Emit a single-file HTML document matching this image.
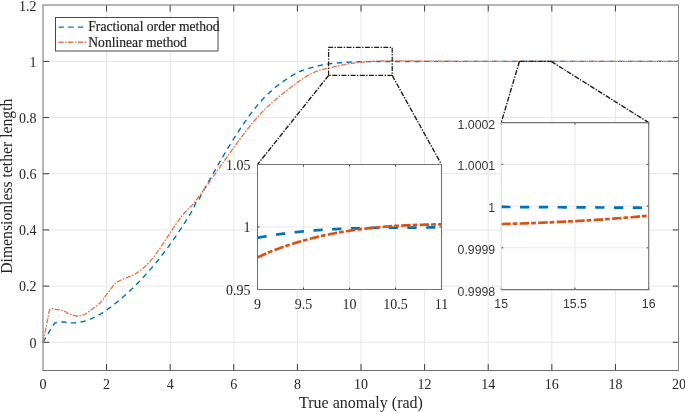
<!DOCTYPE html><html><head><meta charset="utf-8"><title>Dimensionless tether length</title><style>html,body{margin:0;padding:0;background:#fff;}svg{display:block;} .lg text{stroke:#262626;stroke-width:0.2px;}</style></head><body>
<svg width="685" height="412" viewBox="0 0 685 412">
<rect width="685" height="412" fill="#fff"/>
<path d="M106.55,5.22V370.4M170.16,5.22V370.4M233.77,5.22V370.4M297.38,5.22V370.4M360.99,5.22V370.4M424.61,5.22V370.4M488.22,5.22V370.4M551.83,5.22V370.4M615.44,5.22V370.4M42.94,342.31H679.05M42.94,286.13H679.05M42.94,229.95H679.05M42.94,173.76H679.05M42.94,117.58H679.05M42.94,61.40H679.05" stroke="#e7e7e7" stroke-width="1" fill="none"/>
<path d="M106.55,370.4v-6.3M106.55,5.22v6.3M170.16,370.4v-6.3M170.16,5.22v6.3M233.77,370.4v-6.3M233.77,5.22v6.3M297.38,370.4v-6.3M297.38,5.22v6.3M360.99,370.4v-6.3M360.99,5.22v6.3M424.61,370.4v-6.3M424.61,5.22v6.3M488.22,370.4v-6.3M488.22,5.22v6.3M551.83,370.4v-6.3M551.83,5.22v6.3M615.44,370.4v-6.3M615.44,5.22v6.3M42.94,342.31h6.3M679.05,342.31h-6.3M42.94,286.13h6.3M679.05,286.13h-6.3M42.94,229.95h6.3M679.05,229.95h-6.3M42.94,173.76h6.3M679.05,173.76h-6.3M42.94,117.58h6.3M679.05,117.58h-6.3M42.94,61.40h6.3M679.05,61.40h-6.3" stroke="#3a3a3a" stroke-width="1" fill="none"/>
<path d="M43,5V370.5" stroke="#6e6e6e" stroke-width="1" fill="none"/>
<path d="M42.5,370.5H679" stroke="#6e6e6e" stroke-width="1" fill="none"/>
<path d="M42.5,5H679" stroke="#6e6e6e" stroke-width="1" fill="none"/>
<path d="M678.5,5V370.5" stroke="#858585" stroke-width="1" fill="none"/>
<g font-family="'Liberation Serif','Times New Roman',serif" font-size="14" fill="#262626">
<text x="42.94" y="389.1" text-anchor="middle">0</text>
<text x="106.55" y="389.1" text-anchor="middle">2</text>
<text x="170.16" y="389.1" text-anchor="middle">4</text>
<text x="233.77" y="389.1" text-anchor="middle">6</text>
<text x="297.38" y="389.1" text-anchor="middle">8</text>
<text x="360.99" y="389.1" text-anchor="middle">10</text>
<text x="424.61" y="389.1" text-anchor="middle">12</text>
<text x="488.22" y="389.1" text-anchor="middle">14</text>
<text x="551.83" y="389.1" text-anchor="middle">16</text>
<text x="615.44" y="389.1" text-anchor="middle">18</text>
<text x="679.05" y="389.1" text-anchor="middle">20</text>
<text x="36.5" y="347.61" text-anchor="end">0</text>
<text x="36.5" y="291.43" text-anchor="end">0.2</text>
<text x="36.5" y="235.25" text-anchor="end">0.4</text>
<text x="36.5" y="179.06" text-anchor="end">0.6</text>
<text x="36.5" y="122.88" text-anchor="end">0.8</text>
<text x="36.5" y="66.70" text-anchor="end">1</text>
<text x="36.5" y="10.52" text-anchor="end">1.2</text>
</g>
<text x="361.0" y="408.3" text-anchor="middle" font-family="'Liberation Serif','Times New Roman',serif" font-size="16" fill="#262626">True anomaly (rad)</text>
<text transform="translate(11.6,186.2) rotate(-90)" text-anchor="middle" font-family="'Liberation Serif','Times New Roman',serif" font-size="15.7" fill="#262626">Dimensionless tether length</text>
<path d="M42.94,342.31 L43.52,341.33 L44.11,340.36 L44.69,339.38 L45.28,338.41 L45.86,337.43 L46.44,336.46 L47.03,335.48 L47.61,334.51 L48.20,333.53 L48.78,332.56 L49.36,331.58 L49.95,330.60 L50.53,329.59 L51.12,328.54 L51.70,327.49 L52.29,326.49 L52.87,325.58 L53.45,324.80 L54.04,324.04 L54.62,323.37 L55.21,322.96 L55.79,322.79 L56.37,322.63 L56.96,322.50 L57.54,322.38 L58.13,322.27 L58.71,322.18 L59.29,322.10 L59.88,322.04 L60.46,322.00 L61.05,321.96 L61.63,321.95 L62.21,321.94 L62.80,321.96 L63.38,321.98 L63.97,322.02 L64.55,322.07 L65.13,322.13 L65.72,322.19 L66.30,322.26 L66.89,322.34 L67.47,322.41 L68.06,322.49 L68.64,322.57 L69.22,322.64 L69.81,322.71 L70.39,322.77 L70.98,322.82 L71.56,322.87 L72.14,322.90 L72.73,322.92 L73.31,322.93 L73.90,322.92 L74.48,322.89 L75.06,322.86 L75.65,322.81 L76.23,322.75 L76.82,322.68 L77.40,322.60 L77.98,322.51 L78.57,322.41 L79.15,322.30 L79.74,322.19 L80.32,322.08 L80.90,321.96 L81.49,321.83 L82.07,321.71 L82.66,321.58 L83.24,321.46 L83.83,321.33 L84.41,321.20 L84.99,321.05 L85.58,320.89 L86.16,320.72 L86.75,320.53 L87.33,320.34 L87.91,320.13 L88.50,319.92 L89.08,319.69 L89.67,319.46 L90.25,319.21 L90.83,318.97 L91.42,318.71 L92.00,318.45 L92.59,318.18 L93.17,317.91 L93.75,317.63 L94.34,317.35 L94.92,317.07 L95.51,316.78 L96.09,316.50 L96.67,316.21 L97.26,315.92 L97.84,315.62 L98.43,315.30 L99.01,314.97 L99.60,314.63 L100.18,314.28 L100.76,313.92 L101.35,313.55 L101.93,313.18 L102.52,312.80 L103.10,312.42 L103.68,312.03 L104.27,311.64 L104.85,311.25 L105.44,310.86 L106.02,310.45 L106.60,310.04 L107.19,309.61 L107.77,309.19 L108.36,308.76 L108.94,308.33 L109.52,307.90 L110.11,307.46 L110.69,307.03 L111.28,306.59 L111.86,306.14 L112.44,305.70 L113.03,305.25 L113.61,304.79 L114.20,304.34 L114.78,303.88 L115.37,303.41 L115.95,302.95 L116.53,302.48 L117.12,302.00 L117.70,301.53 L118.29,301.05 L118.87,300.57 L119.45,300.08 L120.04,299.59 L120.62,299.10 L121.21,298.60 L121.79,298.10 L122.37,297.60 L122.96,297.09 L123.54,296.59 L124.13,296.07 L124.71,295.56 L125.29,295.04 L125.88,294.51 L126.46,293.99 L127.05,293.46 L127.63,292.92 L128.21,292.39 L128.80,291.85 L129.38,291.30 L129.97,290.76 L130.55,290.21 L131.14,289.65 L131.72,289.09 L132.30,288.53 L132.89,287.97 L133.47,287.40 L134.06,286.83 L134.64,286.25 L135.22,285.67 L135.81,285.09 L136.39,284.51 L136.98,283.92 L137.56,283.32 L138.14,282.73 L138.73,282.13 L139.31,281.52 L139.90,280.91 L140.48,280.30 L141.06,279.69 L141.65,279.07 L142.23,278.45 L142.82,277.82 L143.40,277.19 L143.98,276.56 L144.57,275.92 L145.15,275.28 L145.74,274.64 L146.32,273.99 L146.91,273.34 L147.49,272.68 L148.07,272.02 L148.66,271.36 L149.24,270.69 L149.83,270.02 L150.41,269.35 L150.99,268.67 L151.58,267.99 L152.16,267.30 L152.75,266.61 L153.33,265.92 L153.91,265.22 L154.50,264.52 L155.08,263.81 L155.67,263.10 L156.25,262.39 L156.83,261.67 L157.42,260.95 L158.00,260.23 L158.59,259.50 L159.17,258.77 L159.75,258.03 L160.34,257.29 L160.92,256.55 L161.51,255.80 L162.09,255.05 L162.68,254.29 L163.26,253.53 L163.84,252.77 L164.43,252.00 L165.01,251.23 L165.60,250.45 L166.18,249.67 L166.76,248.89 L167.35,248.10 L167.93,247.31 L168.52,246.51 L169.10,245.71 L169.68,244.90 L170.27,244.10 L170.85,243.28 L171.44,242.47 L172.02,241.65 L172.60,240.82 L173.19,239.99 L173.77,239.16 L174.36,238.32 L174.94,237.48 L175.52,236.63 L176.11,235.78 L176.69,234.93 L177.28,234.07 L177.86,233.21 L178.45,232.34 L179.03,231.47 L179.61,230.59 L180.20,229.72 L180.78,228.83 L181.37,227.94 L181.95,227.05 L182.53,226.15 L183.12,225.25 L183.70,224.35 L184.29,223.44 L184.87,222.53 L185.45,221.61 L186.04,220.69 L186.62,219.76 L187.21,218.83 L187.79,217.89 L188.37,216.95 L188.96,216.01 L189.54,215.06 L190.13,214.12 L190.71,213.18 L191.29,212.22 L191.88,211.25 L192.46,210.27 L193.05,209.22 L193.63,207.95 L194.22,206.55 L194.80,205.14 L195.38,203.83 L195.97,202.76 L196.55,202.04 L197.14,201.86 L197.72,201.76 L198.30,201.01 L198.89,199.90 L199.47,198.58 L200.06,197.19 L200.64,195.88 L201.22,194.77 L201.81,193.72 L202.39,192.68 L202.98,191.63 L203.56,190.58 L204.14,189.53 L204.73,188.49 L205.31,187.44 L205.90,186.40 L206.48,185.35 L207.06,184.31 L207.65,183.27 L208.23,182.23 L208.82,181.19 L209.40,180.15 L209.99,179.11 L210.57,178.07 L211.15,177.04 L211.74,176.00 L212.32,174.97 L212.91,173.94 L213.49,172.91 L214.07,171.88 L214.66,170.85 L215.24,169.83 L215.83,168.80 L216.41,167.78 L216.99,166.77 L217.58,165.75 L218.16,164.73 L218.75,163.72 L219.33,162.71 L219.91,161.70 L220.50,160.70 L221.08,159.70 L221.67,158.70 L222.25,157.70 L222.83,156.70 L223.42,155.71 L224.00,154.72 L224.59,153.74 L225.17,152.75 L225.76,151.77 L226.34,150.80 L226.92,149.82 L227.51,148.85 L228.09,147.89 L228.68,146.92 L229.26,145.96 L229.84,145.01 L230.43,144.05 L231.01,143.10 L231.60,142.16 L232.18,141.22 L232.76,140.28 L233.35,139.35 L233.93,138.42 L234.52,137.49 L235.10,136.57 L235.68,135.66 L236.27,134.75 L236.85,133.84 L237.44,132.94 L238.02,132.04 L238.60,131.14 L239.19,130.26 L239.77,129.37 L240.36,128.49 L240.94,127.62 L241.53,126.75 L242.11,125.89 L242.69,125.03 L243.28,124.18 L243.86,123.33 L244.45,122.49 L245.03,121.65 L245.61,120.82 L246.20,119.99 L246.78,119.17 L247.37,118.36 L247.95,117.55 L248.53,116.75 L249.12,115.95 L249.70,115.16 L250.29,114.37 L250.87,113.60 L251.45,112.83 L252.04,112.06 L252.62,111.30 L253.21,110.55 L253.79,109.80 L254.37,109.06 L254.96,108.33 L255.54,107.61 L256.13,106.89 L256.71,106.17 L257.30,105.47 L257.88,104.77 L258.46,104.08 L259.05,103.40 L259.63,102.72 L260.22,102.05 L260.80,101.39 L261.38,100.74 L261.97,100.09 L262.55,99.45 L263.14,98.82 L263.72,98.20 L264.30,97.58 L264.89,96.98 L265.47,96.38 L266.06,95.79 L266.64,95.21 L267.22,94.63 L267.81,94.06 L268.39,93.51 L268.98,92.96 L269.56,92.42 L270.14,91.89 L270.73,91.38 L271.31,90.87 L271.90,90.37 L272.48,89.88 L273.07,89.38 L273.65,88.87 L274.23,88.35 L274.82,87.82 L275.40,87.29 L275.99,86.78 L276.57,86.28 L277.15,85.81 L277.74,85.35 L278.32,84.91 L278.91,84.47 L279.49,84.04 L280.07,83.62 L280.66,83.21 L281.24,82.80 L281.83,82.40 L282.41,82.00 L282.99,81.60 L283.58,81.20 L284.16,80.80 L284.75,80.40 L285.33,80.00 L285.91,79.60 L286.50,79.19 L287.08,78.79 L287.67,78.38 L288.25,77.98 L288.84,77.58 L289.42,77.19 L290.00,76.81 L290.59,76.43 L291.17,76.06 L291.76,75.69 L292.34,75.34 L292.92,75.00 L293.51,74.67 L294.09,74.35 L294.68,74.03 L295.26,73.72 L295.84,73.42 L296.43,73.12 L297.01,72.82 L297.60,72.54 L298.18,72.26 L298.76,71.99 L299.35,71.73 L299.93,71.47 L300.52,71.23 L301.10,70.99 L301.68,70.76 L302.27,70.54 L302.85,70.33 L303.44,70.12 L304.02,69.92 L304.61,69.72 L305.19,69.52 L305.77,69.33 L306.36,69.15 L306.94,68.97 L307.53,68.79 L308.11,68.61 L308.69,68.44 L309.28,68.27 L309.86,68.10 L310.45,67.93 L311.03,67.76 L311.61,67.60 L312.20,67.43 L312.78,67.27 L313.37,67.11 L313.95,66.96 L314.53,66.80 L315.12,66.65 L315.70,66.50 L316.29,66.36 L316.87,66.21 L317.45,66.07 L318.04,65.94 L318.62,65.80 L319.21,65.68 L319.79,65.55 L320.38,65.43 L320.96,65.30 L321.54,65.18 L322.13,65.06 L322.71,64.95 L323.30,64.83 L323.88,64.72 L324.46,64.61 L325.05,64.50 L325.63,64.40 L326.22,64.30 L326.80,64.20 L327.38,64.10 L327.97,64.01 L328.55,63.92 L329.14,63.84 L329.72,63.76 L330.30,63.69 L330.89,63.62 L331.47,63.56 L332.06,63.49 L332.64,63.43 L333.22,63.37 L333.81,63.31 L334.39,63.25 L334.98,63.19 L335.56,63.13 L336.15,63.08 L336.73,63.02 L337.31,62.97 L337.90,62.92 L338.48,62.87 L339.07,62.82 L339.65,62.77 L340.23,62.73 L340.82,62.68 L341.40,62.64 L341.99,62.59 L342.57,62.55 L343.15,62.51 L343.74,62.47 L344.32,62.43 L344.91,62.40 L345.49,62.36 L346.07,62.33 L346.66,62.29 L347.24,62.26 L347.83,62.23 L348.41,62.20 L348.99,62.17 L349.58,62.14 L350.16,62.11 L350.75,62.08 L351.33,62.06 L351.92,62.03 L352.50,62.01 L353.08,61.99 L353.67,61.96 L354.25,61.94 L354.84,61.92 L355.42,61.90 L356.00,61.88 L356.59,61.86 L357.17,61.85 L357.76,61.83 L358.34,61.81 L358.92,61.80 L359.51,61.78 L360.09,61.77 L360.68,61.76 L361.26,61.74 L361.84,61.73 L362.43,61.72 L363.01,61.71 L363.60,61.70 L364.18,61.69 L364.76,61.68 L365.35,61.67 L365.93,61.66 L366.52,61.65 L367.10,61.64 L367.69,61.64 L368.27,61.63 L368.85,61.62 L369.44,61.62 L370.02,61.61 L370.61,61.61 L371.19,61.60 L371.77,61.60 L372.36,61.59 L372.94,61.59 L373.53,61.58 L374.11,61.58 L374.69,61.58 L375.28,61.57 L375.86,61.57 L376.45,61.57 L377.03,61.56 L377.61,61.56 L378.20,61.56 L378.78,61.56 L379.37,61.55 L379.95,61.55 L380.53,61.55 L381.12,61.55 L381.70,61.54 L382.29,61.54 L382.87,61.54 L383.46,61.54 L384.04,61.53 L384.62,61.53 L385.21,61.53 L385.79,61.52 L386.38,61.52 L386.96,61.52 L387.54,61.51 L388.13,61.51 L388.71,61.51 L389.30,61.50 L389.88,61.50 L390.46,61.49 L391.05,61.48 L391.63,61.48 L392.22,61.47 L392.80,61.47 L393.44,61.47 L394.87,61.46 L396.31,61.46 L397.74,61.46 L399.18,61.46 L400.61,61.45 L402.05,61.45 L403.48,61.45 L404.92,61.45 L406.35,61.45 L407.79,61.44 L409.22,61.44 L410.66,61.44 L412.09,61.44 L413.53,61.44 L414.97,61.44 L416.40,61.43 L417.84,61.43 L419.27,61.43 L420.71,61.43 L422.14,61.43 L423.58,61.42 L425.01,61.42 L426.45,61.42 L427.88,61.42 L429.32,61.42 L430.75,61.42 L432.19,61.41 L433.62,61.41 L435.06,61.41 L436.49,61.41 L437.93,61.41 L439.36,61.41 L440.80,61.41 L442.23,61.41 L443.67,61.41 L445.11,61.41 L446.54,61.41 L447.98,61.41 L449.41,61.41 L450.85,61.41 L452.28,61.41 L453.72,61.41 L455.15,61.41 L456.59,61.41 L458.02,61.41 L459.46,61.41 L460.89,61.41 L462.33,61.41 L463.76,61.41 L465.20,61.41 L466.63,61.41 L468.07,61.41 L469.50,61.41 L470.94,61.41 L472.37,61.41 L473.81,61.41 L475.25,61.41 L476.68,61.41 L478.12,61.41 L479.55,61.41 L480.99,61.41 L482.42,61.41 L483.86,61.41 L485.29,61.41 L486.73,61.41 L488.16,61.41 L489.60,61.41 L491.03,61.41 L492.47,61.41 L493.90,61.41 L495.34,61.41 L496.77,61.41 L498.21,61.41 L499.64,61.41 L501.08,61.40 L502.52,61.40 L503.95,61.40 L505.39,61.40 L506.82,61.40 L508.26,61.40 L509.69,61.40 L511.13,61.40 L512.56,61.40 L514.00,61.40 L515.43,61.40 L516.87,61.40 L518.30,61.40 L519.74,61.40 L521.17,61.40 L522.61,61.40 L524.04,61.40 L525.48,61.40 L526.91,61.40 L528.35,61.40 L529.78,61.40 L531.22,61.40 L532.66,61.40 L534.09,61.40 L535.53,61.40 L536.96,61.40 L538.40,61.40 L539.83,61.40 L541.27,61.40 L542.70,61.40 L544.14,61.40 L545.57,61.40 L547.01,61.40 L548.44,61.40 L549.88,61.40 L551.31,61.40 L552.75,61.40 L554.18,61.40 L555.62,61.40 L557.05,61.40 L558.49,61.40 L559.92,61.40 L561.36,61.40 L562.80,61.40 L564.23,61.40 L565.67,61.40 L567.10,61.40 L568.54,61.40 L569.97,61.40 L571.41,61.40 L572.84,61.40 L574.28,61.40 L575.71,61.40 L577.15,61.40 L578.58,61.40 L580.02,61.40 L581.45,61.40 L582.89,61.40 L584.32,61.40 L585.76,61.40 L587.19,61.40 L588.63,61.40 L590.06,61.40 L591.50,61.40 L592.94,61.40 L594.37,61.40 L595.81,61.40 L597.24,61.40 L598.68,61.40 L600.11,61.40 L601.55,61.40 L602.98,61.40 L604.42,61.40 L605.85,61.40 L607.29,61.40 L608.72,61.40 L610.16,61.40 L611.59,61.40 L613.03,61.40 L614.46,61.40 L615.90,61.40 L617.33,61.40 L618.77,61.40 L620.21,61.40 L621.64,61.40 L623.08,61.40 L624.51,61.40 L625.95,61.40 L627.38,61.40 L628.82,61.40 L630.25,61.40 L631.69,61.40 L633.12,61.40 L634.56,61.40 L635.99,61.40 L637.43,61.40 L638.86,61.40 L640.30,61.40 L641.73,61.40 L643.17,61.40 L644.60,61.40 L646.04,61.40 L647.47,61.40 L648.91,61.40 L650.35,61.40 L651.78,61.40 L653.22,61.40 L654.65,61.40 L656.09,61.40 L657.52,61.40 L658.96,61.40 L660.39,61.40 L661.83,61.40 L663.26,61.40 L664.70,61.40 L666.13,61.40 L667.57,61.40 L669.00,61.40 L670.44,61.40 L671.87,61.40 L673.31,61.40 L674.74,61.40 L676.18,61.40 L677.61,61.40 L679.05,61.40" stroke="#0072BD" stroke-width="1.4" fill="none" stroke-dasharray="5.4 4.3"/>
<path d="M42.94,342.31 L43.52,339.49 L44.11,336.68 L44.69,333.86 L45.28,331.05 L45.86,328.23 L46.44,325.42 L47.03,322.60 L47.61,319.73 L48.20,316.38 L48.78,313.07 L49.36,310.54 L49.95,309.34 L50.53,308.69 L51.12,308.61 L51.70,308.65 L52.29,308.72 L52.87,308.79 L53.45,308.87 L54.04,308.97 L54.62,309.08 L55.21,309.20 L55.79,309.32 L56.37,309.44 L56.96,309.55 L57.54,309.66 L58.13,309.76 L58.71,309.85 L59.29,309.95 L59.88,310.05 L60.46,310.16 L61.05,310.27 L61.63,310.39 L62.21,310.52 L62.80,310.67 L63.38,310.83 L63.97,311.02 L64.55,311.28 L65.13,311.58 L65.72,311.91 L66.30,312.26 L66.89,312.62 L67.47,312.97 L68.06,313.29 L68.64,313.57 L69.22,313.82 L69.81,314.06 L70.39,314.29 L70.98,314.51 L71.56,314.71 L72.14,314.91 L72.73,315.09 L73.31,315.25 L73.90,315.41 L74.48,315.57 L75.06,315.73 L75.65,315.87 L76.23,315.98 L76.82,316.04 L77.40,316.04 L77.98,316.01 L78.57,315.95 L79.15,315.87 L79.74,315.77 L80.32,315.64 L80.90,315.50 L81.49,315.35 L82.07,315.18 L82.66,315.01 L83.24,314.83 L83.83,314.65 L84.41,314.43 L84.99,314.17 L85.58,313.86 L86.16,313.51 L86.75,313.13 L87.33,312.72 L87.91,312.30 L88.50,311.87 L89.08,311.43 L89.67,311.00 L90.25,310.57 L90.83,310.16 L91.42,309.74 L92.00,309.31 L92.59,308.86 L93.17,308.41 L93.75,307.96 L94.34,307.50 L94.92,307.03 L95.51,306.56 L96.09,306.09 L96.67,305.61 L97.26,305.14 L97.84,304.68 L98.43,304.23 L99.01,303.77 L99.60,303.29 L100.18,302.78 L100.76,302.22 L101.35,301.61 L101.93,300.92 L102.52,300.16 L103.10,299.35 L103.68,298.51 L104.27,297.65 L104.85,296.79 L105.44,295.94 L106.02,295.11 L106.60,294.33 L107.19,293.57 L107.77,292.81 L108.36,292.07 L108.94,291.33 L109.52,290.59 L110.11,289.85 L110.69,289.10 L111.28,288.34 L111.86,287.58 L112.44,286.79 L113.03,285.99 L113.61,285.06 L114.20,284.23 L114.78,283.71 L115.37,283.31 L115.95,282.96 L116.53,282.58 L117.12,282.20 L117.70,281.84 L118.29,281.48 L118.87,281.15 L119.45,280.83 L120.04,280.54 L120.62,280.26 L121.21,279.99 L121.79,279.73 L122.37,279.47 L122.96,279.22 L123.54,278.99 L124.13,278.75 L124.71,278.53 L125.29,278.30 L125.88,278.07 L126.46,277.84 L127.05,277.61 L127.63,277.39 L128.21,277.16 L128.80,276.92 L129.38,276.68 L129.97,276.44 L130.55,276.19 L131.14,275.94 L131.72,275.67 L132.30,275.40 L132.89,275.12 L133.47,274.83 L134.06,274.54 L134.64,274.23 L135.22,273.91 L135.81,273.58 L136.39,273.24 L136.98,272.88 L137.56,272.51 L138.14,272.14 L138.73,271.75 L139.31,271.34 L139.90,270.92 L140.48,270.49 L141.06,270.04 L141.65,269.58 L142.23,269.11 L142.82,268.62 L143.40,268.12 L143.98,267.60 L144.57,267.07 L145.15,266.52 L145.74,265.96 L146.32,265.39 L146.91,264.80 L147.49,264.19 L148.07,263.58 L148.66,262.95 L149.24,262.30 L149.83,261.64 L150.41,260.97 L150.99,260.29 L151.58,259.59 L152.16,258.88 L152.75,258.16 L153.33,257.42 L153.91,256.67 L154.50,255.92 L155.08,255.15 L155.67,254.37 L156.25,253.58 L156.83,252.78 L157.42,251.97 L158.00,251.15 L158.59,250.32 L159.17,249.49 L159.75,248.64 L160.34,247.79 L160.92,246.94 L161.51,246.07 L162.09,245.20 L162.68,244.32 L163.26,243.44 L163.84,242.56 L164.43,241.67 L165.01,240.78 L165.60,239.88 L166.18,238.98 L166.76,238.09 L167.35,237.19 L167.93,236.29 L168.52,235.39 L169.10,234.48 L169.68,233.58 L170.27,232.69 L170.85,231.79 L171.44,230.90 L172.02,230.01 L172.60,229.12 L173.19,228.24 L173.77,227.37 L174.36,226.50 L174.94,225.63 L175.52,224.78 L176.11,223.93 L176.69,223.09 L177.28,222.25 L177.86,221.43 L178.45,220.61 L179.03,219.80 L179.61,219.01 L180.20,218.23 L180.78,217.46 L181.37,216.70 L181.95,215.95 L182.53,215.21 L183.12,214.50 L183.70,213.79 L184.29,213.10 L184.87,212.42 L185.45,211.76 L186.04,211.11 L186.62,210.49 L187.21,209.89 L187.79,209.30 L188.37,208.72 L188.96,208.15 L189.54,207.58 L190.13,207.03 L190.71,206.50 L191.29,205.95 L191.88,205.38 L192.46,204.77 L193.05,204.09 L193.63,203.37 L194.22,202.64 L194.80,201.91 L195.38,201.15 L195.97,200.39 L196.55,199.62 L197.14,198.84 L197.72,198.07 L198.30,197.29 L198.89,196.52 L199.47,195.74 L200.06,194.95 L200.64,194.17 L201.22,193.38 L201.81,192.59 L202.39,191.79 L202.98,190.99 L203.56,190.19 L204.14,189.39 L204.73,188.59 L205.31,187.78 L205.90,186.97 L206.48,186.16 L207.06,185.35 L207.65,184.53 L208.23,183.71 L208.82,182.89 L209.40,182.07 L209.99,181.25 L210.57,180.43 L211.15,179.60 L211.74,178.77 L212.32,177.94 L212.91,177.12 L213.49,176.29 L214.07,175.45 L214.66,174.62 L215.24,173.79 L215.83,172.96 L216.41,172.12 L216.99,171.29 L217.58,170.45 L218.16,169.62 L218.75,168.78 L219.33,167.94 L219.91,167.11 L220.50,166.27 L221.08,165.43 L221.67,164.60 L222.25,163.76 L222.83,162.93 L223.42,162.09 L224.00,161.26 L224.59,160.42 L225.17,159.59 L225.76,158.76 L226.34,157.92 L226.92,157.09 L227.51,156.26 L228.09,155.43 L228.68,154.61 L229.26,153.78 L229.84,152.96 L230.43,152.13 L231.01,151.31 L231.60,150.49 L232.18,149.67 L232.76,148.85 L233.35,148.04 L233.93,147.23 L234.52,146.42 L235.10,145.61 L235.68,144.80 L236.27,144.00 L236.85,143.20 L237.44,142.40 L238.02,141.60 L238.60,140.81 L239.19,140.01 L239.77,139.23 L240.36,138.44 L240.94,137.66 L241.53,136.88 L242.11,136.10 L242.69,135.33 L243.28,134.56 L243.86,133.80 L244.45,133.04 L245.03,132.28 L245.61,131.52 L246.20,130.77 L246.78,130.02 L247.37,129.28 L247.95,128.54 L248.53,127.81 L249.12,127.08 L249.70,126.35 L250.29,125.63 L250.87,124.91 L251.45,124.20 L252.04,123.49 L252.62,122.79 L253.21,122.09 L253.79,121.40 L254.37,120.71 L254.96,120.03 L255.54,119.35 L256.13,118.68 L256.71,118.01 L257.30,117.35 L257.88,116.70 L258.46,116.05 L259.05,115.40 L259.63,114.76 L260.22,114.13 L260.80,113.50 L261.38,112.88 L261.97,112.27 L262.55,111.66 L263.14,111.06 L263.72,110.47 L264.30,109.88 L264.89,109.29 L265.47,108.72 L266.06,108.15 L266.64,107.59 L267.22,107.04 L267.81,106.51 L268.39,105.97 L268.98,105.45 L269.56,104.92 L270.14,104.41 L270.73,103.89 L271.31,103.38 L271.90,102.87 L272.48,102.35 L273.07,101.84 L273.65,101.33 L274.23,100.82 L274.82,100.32 L275.40,99.82 L275.99,99.31 L276.57,98.81 L277.15,98.32 L277.74,97.82 L278.32,97.32 L278.91,96.83 L279.49,96.33 L280.07,95.83 L280.66,95.34 L281.24,94.84 L281.83,94.34 L282.41,93.85 L282.99,93.36 L283.58,92.88 L284.16,92.40 L284.75,91.93 L285.33,91.46 L285.91,91.00 L286.50,90.55 L287.08,90.10 L287.67,89.66 L288.25,89.22 L288.84,88.79 L289.42,88.36 L290.00,87.93 L290.59,87.50 L291.17,87.07 L291.76,86.64 L292.34,86.21 L292.92,85.78 L293.51,85.35 L294.09,84.91 L294.68,84.48 L295.26,84.04 L295.84,83.61 L296.43,83.18 L297.01,82.75 L297.60,82.32 L298.18,81.90 L298.76,81.48 L299.35,81.07 L299.93,80.66 L300.52,80.25 L301.10,79.86 L301.68,79.46 L302.27,79.06 L302.85,78.66 L303.44,78.26 L304.02,77.87 L304.61,77.48 L305.19,77.09 L305.77,76.72 L306.36,76.35 L306.94,75.99 L307.53,75.64 L308.11,75.30 L308.69,74.97 L309.28,74.66 L309.86,74.35 L310.45,74.05 L311.03,73.76 L311.61,73.47 L312.20,73.19 L312.78,72.92 L313.37,72.66 L313.95,72.40 L314.53,72.15 L315.12,71.92 L315.70,71.69 L316.29,71.47 L316.87,71.26 L317.45,71.05 L318.04,70.85 L318.62,70.66 L319.21,70.47 L319.79,70.29 L320.38,70.11 L320.96,69.94 L321.54,69.78 L322.13,69.62 L322.71,69.47 L323.30,69.32 L323.88,69.19 L324.46,69.06 L325.05,68.95 L325.63,68.85 L326.22,68.75 L326.80,68.65 L327.38,68.55 L327.97,68.44 L328.55,68.33 L329.14,68.20 L329.72,68.07 L330.30,67.91 L330.89,67.74 L331.47,67.57 L332.06,67.40 L332.64,67.23 L333.22,67.07 L333.81,66.92 L334.39,66.77 L334.98,66.63 L335.56,66.48 L336.15,66.34 L336.73,66.20 L337.31,66.06 L337.90,65.93 L338.48,65.80 L339.07,65.66 L339.65,65.54 L340.23,65.41 L340.82,65.29 L341.40,65.17 L341.99,65.05 L342.57,64.93 L343.15,64.81 L343.74,64.70 L344.32,64.59 L344.91,64.48 L345.49,64.38 L346.07,64.27 L346.66,64.17 L347.24,64.07 L347.83,63.97 L348.41,63.88 L348.99,63.78 L349.58,63.69 L350.16,63.60 L350.75,63.51 L351.33,63.42 L351.92,63.34 L352.50,63.26 L353.08,63.17 L353.67,63.10 L354.25,63.02 L354.84,62.94 L355.42,62.87 L356.00,62.79 L356.59,62.72 L357.17,62.66 L357.76,62.59 L358.34,62.52 L358.92,62.46 L359.51,62.40 L360.09,62.33 L360.68,62.28 L361.26,62.22 L361.84,62.16 L362.43,62.11 L363.01,62.05 L363.60,62.00 L364.18,61.95 L364.76,61.90 L365.35,61.85 L365.93,61.81 L366.52,61.76 L367.10,61.72 L367.69,61.68 L368.27,61.64 L368.85,61.60 L369.44,61.56 L370.02,61.52 L370.61,61.48 L371.19,61.45 L371.77,61.42 L372.36,61.38 L372.94,61.35 L373.53,61.32 L374.11,61.29 L374.69,61.26 L375.28,61.24 L375.86,61.21 L376.45,61.19 L377.03,61.16 L377.61,61.14 L378.20,61.12 L378.78,61.10 L379.37,61.07 L379.95,61.06 L380.53,61.04 L381.12,61.02 L381.70,61.00 L382.29,60.99 L382.87,60.97 L383.46,60.96 L384.04,60.94 L384.62,60.93 L385.21,60.92 L385.79,60.90 L386.38,60.89 L386.96,60.88 L387.54,60.87 L388.13,60.86 L388.71,60.85 L389.30,60.85 L389.88,60.84 L390.46,60.83 L391.05,60.82 L391.63,60.81 L392.22,60.81 L392.80,60.81 L393.44,60.81 L394.87,60.81 L396.31,60.82 L397.74,60.83 L399.18,60.84 L400.61,60.85 L402.05,60.86 L403.48,60.88 L404.92,60.89 L406.35,60.90 L407.79,60.92 L409.22,60.93 L410.66,60.94 L412.09,60.95 L413.53,60.97 L414.97,60.98 L416.40,61.00 L417.84,61.01 L419.27,61.03 L420.71,61.05 L422.14,61.06 L423.58,61.08 L425.01,61.09 L426.45,61.11 L427.88,61.13 L429.32,61.14 L430.75,61.16 L432.19,61.17 L433.62,61.18 L435.06,61.20 L436.49,61.21 L437.93,61.22 L439.36,61.23 L440.80,61.23 L442.23,61.24 L443.67,61.25 L445.11,61.26 L446.54,61.27 L447.98,61.27 L449.41,61.28 L450.85,61.29 L452.28,61.29 L453.72,61.30 L455.15,61.31 L456.59,61.32 L458.02,61.32 L459.46,61.33 L460.89,61.33 L462.33,61.34 L463.76,61.35 L465.20,61.35 L466.63,61.36 L468.07,61.36 L469.50,61.37 L470.94,61.37 L472.37,61.38 L473.81,61.38 L475.25,61.38 L476.68,61.39 L478.12,61.39 L479.55,61.39 L480.99,61.40 L482.42,61.40 L483.86,61.40 L485.29,61.40 L486.73,61.40 L488.16,61.40 L489.60,61.40 L491.03,61.40 L492.47,61.40 L493.90,61.40 L495.34,61.40 L496.77,61.40 L498.21,61.40 L499.64,61.40 L501.08,61.40 L502.52,61.40 L503.95,61.40 L505.39,61.40 L506.82,61.40 L508.26,61.40 L509.69,61.40 L511.13,61.40 L512.56,61.40 L514.00,61.40 L515.43,61.40 L516.87,61.40 L518.30,61.40 L519.74,61.40 L521.17,61.40 L522.61,61.40 L524.04,61.40 L525.48,61.40 L526.91,61.40 L528.35,61.40 L529.78,61.40 L531.22,61.40 L532.66,61.40 L534.09,61.40 L535.53,61.40 L536.96,61.40 L538.40,61.40 L539.83,61.40 L541.27,61.40 L542.70,61.40 L544.14,61.40 L545.57,61.40 L547.01,61.40 L548.44,61.40 L549.88,61.40 L551.31,61.40 L552.75,61.40 L554.18,61.40 L555.62,61.40 L557.05,61.40 L558.49,61.40 L559.92,61.40 L561.36,61.40 L562.80,61.40 L564.23,61.40 L565.67,61.40 L567.10,61.40 L568.54,61.40 L569.97,61.40 L571.41,61.40 L572.84,61.40 L574.28,61.40 L575.71,61.40 L577.15,61.40 L578.58,61.40 L580.02,61.40 L581.45,61.40 L582.89,61.40 L584.32,61.40 L585.76,61.40 L587.19,61.40 L588.63,61.40 L590.06,61.40 L591.50,61.40 L592.94,61.40 L594.37,61.40 L595.81,61.40 L597.24,61.40 L598.68,61.40 L600.11,61.40 L601.55,61.40 L602.98,61.40 L604.42,61.40 L605.85,61.40 L607.29,61.40 L608.72,61.40 L610.16,61.40 L611.59,61.40 L613.03,61.40 L614.46,61.40 L615.90,61.40 L617.33,61.40 L618.77,61.40 L620.21,61.40 L621.64,61.40 L623.08,61.40 L624.51,61.40 L625.95,61.40 L627.38,61.40 L628.82,61.40 L630.25,61.40 L631.69,61.40 L633.12,61.40 L634.56,61.40 L635.99,61.40 L637.43,61.40 L638.86,61.40 L640.30,61.40 L641.73,61.40 L643.17,61.40 L644.60,61.40 L646.04,61.40 L647.47,61.40 L648.91,61.40 L650.35,61.40 L651.78,61.40 L653.22,61.40 L654.65,61.40 L656.09,61.40 L657.52,61.40 L658.96,61.40 L660.39,61.40 L661.83,61.40 L663.26,61.40 L664.70,61.40 L666.13,61.40 L667.57,61.40 L669.00,61.40 L670.44,61.40 L671.87,61.40 L673.31,61.40 L674.74,61.40 L676.18,61.40 L677.61,61.40 L679.05,61.40" stroke="#E4784C" stroke-width="1.35" fill="none" stroke-dasharray="5.2 1.4 1.6 1.5"/>
<path d="M328.59,75.45V47.36H392.20V75.45H328.59" stroke="#1e1e1e" stroke-width="1.25" fill="none" stroke-dasharray="5 1.4 1.4 1.4"/>
<path d="M328.59,75.45L257.5,164.5" stroke="#1e1e1e" stroke-width="1.4" fill="none" stroke-dasharray="5 1.4 1.4 1.4"/>
<path d="M392.20,75.45L441.5,164.5" stroke="#1e1e1e" stroke-width="1.4" fill="none" stroke-dasharray="5 1.4 1.4 1.4"/>
<path d="M519.42,61.35H551.23" stroke="#1e1e1e" stroke-width="1.25" fill="none" stroke-dasharray="5 1.4 1.4 1.4"/>
<path d="M519.42,61.46L501.2,122.6" stroke="#1e1e1e" stroke-width="1.4" fill="none" stroke-dasharray="5 1.4 1.4 1.4"/>
<path d="M551.23,61.46L648.7,122.6" stroke="#1e1e1e" stroke-width="1.4" fill="none" stroke-dasharray="5 1.4 1.4 1.4"/>
<rect x="55.5" y="17.5" width="162.5" height="33.5" fill="#fff" stroke="#4a4a4a" stroke-width="1"/>
<path d="M58.5,27.1H84" stroke="#0072BD" stroke-width="1.4" stroke-dasharray="5.4 4.3" fill="none"/>
<path d="M58.5,42.2H86" stroke="#E4784C" stroke-width="1.35" stroke-dasharray="5.2 1.4 1.6 1.5" fill="none"/>
<g class="lg" font-family="'Liberation Serif','Times New Roman',serif" font-size="13.6" fill="#262626"><text x="88.3" y="30.9">Fractional order method</text><text x="88.3" y="46.6">Nonlinear method</text></g>
<rect x="257.5" y="164.5" width="184.0" height="125.0" fill="#fff"/>
<path d="M303.50,164.5V289.5M349.50,164.5V289.5M395.50,164.5V289.5M257.5,227.00H441.5" stroke="#e7e7e7" stroke-width="1" fill="none"/>
<path d="M257.50,289.5v-2M257.50,164.5v2M303.50,289.5v-2M303.50,164.5v2M349.50,289.5v-2M349.50,164.5v2M395.50,289.5v-2M395.50,164.5v2M441.50,289.5v-2M441.50,164.5v2M257.5,289.50h2M441.5,289.50h-2M257.5,227.00h2M441.5,227.00h-2M257.5,164.50h2M441.5,164.50h-2" stroke="#3a3a3a" stroke-width="1" fill="none"/>
<path d="M257.50,237.83 L258.42,237.64 L259.35,237.45 L260.27,237.27 L261.20,237.10 L262.12,236.94 L263.05,236.77 L263.97,236.62 L264.90,236.46 L265.82,236.31 L266.75,236.16 L267.67,236.00 L268.60,235.85 L269.52,235.70 L270.44,235.55 L271.37,235.41 L272.29,235.26 L273.22,235.12 L274.14,234.98 L275.07,234.83 L275.99,234.70 L276.92,234.56 L277.84,234.43 L278.77,234.29 L279.69,234.16 L280.62,234.03 L281.54,233.91 L282.46,233.78 L283.39,233.66 L284.31,233.54 L285.24,233.42 L286.16,233.30 L287.09,233.18 L288.01,233.06 L288.94,232.95 L289.86,232.84 L290.79,232.73 L291.71,232.62 L292.64,232.52 L293.56,232.41 L294.48,232.31 L295.41,232.20 L296.33,232.10 L297.26,232.01 L298.18,231.91 L299.11,231.81 L300.03,231.72 L300.96,231.62 L301.88,231.53 L302.81,231.44 L303.73,231.36 L304.66,231.27 L305.58,231.18 L306.51,231.10 L307.43,231.02 L308.35,230.94 L309.28,230.86 L310.20,230.78 L311.13,230.70 L312.05,230.62 L312.98,230.55 L313.90,230.48 L314.83,230.41 L315.75,230.34 L316.68,230.27 L317.60,230.20 L318.53,230.13 L319.45,230.07 L320.37,230.00 L321.30,229.94 L322.22,229.88 L323.15,229.82 L324.07,229.76 L325.00,229.70 L325.92,229.64 L326.85,229.59 L327.77,229.53 L328.70,229.48 L329.62,229.43 L330.55,229.38 L331.47,229.33 L332.39,229.28 L333.32,229.23 L334.24,229.18 L335.17,229.14 L336.09,229.09 L337.02,229.05 L337.94,229.00 L338.87,228.96 L339.79,228.92 L340.72,228.88 L341.64,228.84 L342.57,228.80 L343.49,228.77 L344.41,228.73 L345.34,228.69 L346.26,228.66 L347.19,228.63 L348.11,228.59 L349.04,228.56 L349.96,228.53 L350.89,228.50 L351.81,228.47 L352.74,228.44 L353.66,228.41 L354.59,228.38 L355.51,228.36 L356.43,228.33 L357.36,228.31 L358.28,228.28 L359.21,228.26 L360.13,228.23 L361.06,228.21 L361.98,228.19 L362.91,228.17 L363.83,228.15 L364.76,228.13 L365.68,228.11 L366.61,228.09 L367.53,228.07 L368.45,228.05 L369.38,228.04 L370.30,228.02 L371.23,228.00 L372.15,227.99 L373.08,227.97 L374.00,227.96 L374.93,227.95 L375.85,227.93 L376.78,227.92 L377.70,227.91 L378.63,227.89 L379.55,227.88 L380.47,227.87 L381.40,227.86 L382.32,227.85 L383.25,227.84 L384.17,227.83 L385.10,227.82 L386.02,227.81 L386.95,227.80 L387.87,227.79 L388.80,227.78 L389.72,227.77 L390.65,227.76 L391.57,227.76 L392.49,227.75 L393.42,227.74 L394.34,227.73 L395.27,227.73 L396.19,227.72 L397.12,227.71 L398.04,227.70 L398.97,227.70 L399.89,227.69 L400.82,227.69 L401.74,227.68 L402.67,227.67 L403.59,227.67 L404.52,227.66 L405.44,227.65 L406.36,227.65 L407.29,227.64 L408.21,227.64 L409.14,227.63 L410.06,227.62 L410.99,227.62 L411.91,227.61 L412.84,227.61 L413.76,227.60 L414.69,227.59 L415.61,227.59 L416.54,227.58 L417.46,227.57 L418.38,227.57 L419.31,227.56 L420.23,227.55 L421.16,227.54 L422.08,227.54 L423.01,227.53 L423.93,227.52 L424.86,227.51 L425.78,227.50 L426.71,227.49 L427.63,227.49 L428.56,227.48 L429.48,227.47 L430.40,227.46 L431.33,227.44 L432.25,227.43 L433.18,227.42 L434.10,227.40 L435.03,227.39 L435.95,227.37 L436.88,227.36 L437.80,227.34 L438.73,227.33 L439.65,227.32 L440.58,227.31 L441.50,227.31" stroke="#0072BD" stroke-width="2.7" fill="none" stroke-dasharray="9.3 9.5"/>
<path d="M257.50,257.22 L258.42,256.89 L259.35,256.53 L260.27,256.15 L261.20,255.76 L262.12,255.35 L263.05,254.94 L263.97,254.52 L264.90,254.10 L265.82,253.68 L266.75,253.27 L267.67,252.87 L268.60,252.48 L269.52,252.11 L270.44,251.74 L271.37,251.37 L272.29,251.01 L273.22,250.65 L274.14,250.29 L275.07,249.93 L275.99,249.58 L276.92,249.24 L277.84,248.89 L278.77,248.55 L279.69,248.21 L280.62,247.88 L281.54,247.55 L282.46,247.22 L283.39,246.90 L284.31,246.57 L285.24,246.25 L286.16,245.94 L287.09,245.62 L288.01,245.31 L288.94,245.01 L289.86,244.70 L290.79,244.40 L291.71,244.11 L292.64,243.81 L293.56,243.52 L294.48,243.23 L295.41,242.94 L296.33,242.66 L297.26,242.38 L298.18,242.10 L299.11,241.83 L300.03,241.55 L300.96,241.29 L301.88,241.02 L302.81,240.76 L303.73,240.50 L304.66,240.24 L305.58,239.98 L306.51,239.73 L307.43,239.48 L308.35,239.23 L309.28,238.99 L310.20,238.75 L311.13,238.51 L312.05,238.27 L312.98,238.04 L313.90,237.81 L314.83,237.58 L315.75,237.35 L316.68,237.13 L317.60,236.91 L318.53,236.69 L319.45,236.48 L320.37,236.26 L321.30,236.05 L322.22,235.84 L323.15,235.64 L324.07,235.43 L325.00,235.23 L325.92,235.04 L326.85,234.84 L327.77,234.65 L328.70,234.46 L329.62,234.27 L330.55,234.08 L331.47,233.90 L332.39,233.71 L333.32,233.53 L334.24,233.36 L335.17,233.18 L336.09,233.01 L337.02,232.84 L337.94,232.67 L338.87,232.50 L339.79,232.34 L340.72,232.18 L341.64,232.02 L342.57,231.86 L343.49,231.71 L344.41,231.55 L345.34,231.40 L346.26,231.25 L347.19,231.11 L348.11,230.96 L349.04,230.82 L349.96,230.68 L350.89,230.54 L351.81,230.40 L352.74,230.27 L353.66,230.14 L354.59,230.01 L355.51,229.88 L356.43,229.75 L357.36,229.62 L358.28,229.50 L359.21,229.38 L360.13,229.26 L361.06,229.14 L361.98,229.03 L362.91,228.92 L363.83,228.80 L364.76,228.69 L365.68,228.58 L366.61,228.48 L367.53,228.37 L368.45,228.27 L369.38,228.17 L370.30,228.07 L371.23,227.97 L372.15,227.87 L373.08,227.78 L374.00,227.69 L374.93,227.60 L375.85,227.51 L376.78,227.42 L377.70,227.33 L378.63,227.25 L379.55,227.16 L380.47,227.08 L381.40,227.00 L382.32,226.92 L383.25,226.84 L384.17,226.77 L385.10,226.70 L386.02,226.62 L386.95,226.55 L387.87,226.48 L388.80,226.41 L389.72,226.35 L390.65,226.28 L391.57,226.21 L392.49,226.15 L393.42,226.09 L394.34,226.03 L395.27,225.97 L396.19,225.91 L397.12,225.86 L398.04,225.80 L398.97,225.75 L399.89,225.70 L400.82,225.64 L401.74,225.59 L402.67,225.54 L403.59,225.50 L404.52,225.45 L405.44,225.40 L406.36,225.36 L407.29,225.32 L408.21,225.27 L409.14,225.23 L410.06,225.19 L410.99,225.15 L411.91,225.12 L412.84,225.08 L413.76,225.04 L414.69,225.01 L415.61,224.97 L416.54,224.94 L417.46,224.91 L418.38,224.88 L419.31,224.85 L420.23,224.82 L421.16,224.79 L422.08,224.76 L423.01,224.74 L423.93,224.71 L424.86,224.68 L425.78,224.66 L426.71,224.64 L427.63,224.61 L428.56,224.59 L429.48,224.57 L430.40,224.55 L431.33,224.53 L432.25,224.51 L433.18,224.49 L434.10,224.47 L435.03,224.45 L435.95,224.43 L436.88,224.41 L437.80,224.39 L438.73,224.38 L439.65,224.37 L440.58,224.36 L441.50,224.36" stroke="#D95319" stroke-width="2.7" fill="none" stroke-dasharray="9.6 1.8 4.8 2.3"/>
<path d="M257.5,164.5H441.5V289.5H257.5" fill="none" stroke="#747474" stroke-width="1.1"/>
<path d="M257.5,164.5V289.5" fill="none" stroke="#6e6e6e" stroke-width="1"/>
<g font-family="'Liberation Serif','Times New Roman',serif" font-size="14" fill="#262626">
<text x="257.50" y="308.60" text-anchor="middle">9</text>
<text x="303.50" y="308.60" text-anchor="middle">9.5</text>
<text x="349.50" y="308.60" text-anchor="middle">10</text>
<text x="395.50" y="308.60" text-anchor="middle">10.5</text>
<text x="441.50" y="308.60" text-anchor="middle">11</text>
<text x="250.50" y="294.90" text-anchor="end">0.95</text>
<text x="250.50" y="232.40" text-anchor="end">1</text>
<text x="250.50" y="169.90" text-anchor="end">1.05</text>
</g>
<rect x="501.2" y="122.6" width="147.50000000000006" height="167.00000000000003" fill="#fff"/>
<path d="M574.95,122.6V289.6M501.2,247.85H648.7M501.2,206.10H648.7M501.2,164.35H648.7" stroke="#e7e7e7" stroke-width="1" fill="none"/>
<path d="M501.20,289.6v-2M501.20,122.6v2M574.95,289.6v-2M574.95,122.6v2M648.70,289.6v-2M648.70,122.6v2M501.2,289.60h2M648.7,289.60h-2M501.2,247.85h2M648.7,247.85h-2M501.2,206.10h2M648.7,206.10h-2M501.2,164.35h2M648.7,164.35h-2M501.2,122.60h2M648.7,122.60h-2" stroke="#3a3a3a" stroke-width="1" fill="none"/>
<path d="M501.20,206.93 L503.70,206.95 L506.20,206.96 L508.70,206.98 L511.20,206.99 L513.70,207.01 L516.20,207.02 L518.70,207.03 L521.20,207.05 L523.70,207.06 L526.20,207.08 L528.70,207.09 L531.20,207.10 L533.70,207.12 L536.20,207.13 L538.70,207.15 L541.20,207.16 L543.70,207.18 L546.20,207.19 L548.70,207.20 L551.20,207.22 L553.70,207.23 L556.20,207.25 L558.70,207.26 L561.20,207.27 L563.70,207.29 L566.20,207.30 L568.70,207.32 L571.20,207.33 L573.70,207.35 L576.20,207.36 L578.70,207.37 L581.20,207.39 L583.70,207.40 L586.20,207.42 L588.70,207.43 L591.20,207.44 L593.70,207.46 L596.20,207.47 L598.70,207.49 L601.20,207.50 L603.70,207.52 L606.20,207.53 L608.70,207.54 L611.20,207.56 L613.70,207.57 L616.20,207.59 L618.70,207.60 L621.20,207.61 L623.70,207.63 L626.20,207.64 L628.70,207.66 L631.20,207.67 L633.70,207.69 L636.20,207.70 L638.70,207.71 L641.20,207.73 L643.70,207.74 L646.20,207.76 L648.70,207.77" stroke="#0072BD" stroke-width="2.7" fill="none" stroke-dasharray="9.3 9.5"/>
<path d="M501.20,224.05 L503.70,223.99 L506.20,223.93 L508.70,223.87 L511.20,223.80 L513.70,223.72 L516.20,223.65 L518.70,223.57 L521.20,223.49 L523.70,223.40 L526.20,223.31 L528.70,223.22 L531.20,223.13 L533.70,223.03 L536.20,222.93 L538.70,222.83 L541.20,222.73 L543.70,222.62 L546.20,222.51 L548.70,222.40 L551.20,222.29 L553.70,222.17 L556.20,222.06 L558.70,221.94 L561.20,221.82 L563.70,221.70 L566.20,221.57 L568.70,221.45 L571.20,221.32 L573.70,221.19 L576.20,221.07 L578.70,220.93 L581.20,220.79 L583.70,220.65 L586.20,220.51 L588.70,220.35 L591.20,220.20 L593.70,220.04 L596.20,219.88 L598.70,219.71 L601.20,219.54 L603.70,219.37 L606.20,219.19 L608.70,219.01 L611.20,218.82 L613.70,218.64 L616.20,218.44 L618.70,218.25 L621.20,218.05 L623.70,217.85 L626.20,217.65 L628.70,217.44 L631.20,217.23 L633.70,217.02 L636.20,216.81 L638.70,216.59 L641.20,216.37 L643.70,216.15 L646.20,215.93 L648.70,215.70" stroke="#D95319" stroke-width="2.7" fill="none" stroke-dasharray="9.6 1.8 4.8 2.3"/>
<path d="M501.2,122.6H648.7V289.6H501.2" fill="none" stroke="#747474" stroke-width="1.1"/>
<path d="M501.2,122.6V289.6" fill="none" stroke="#d8d8d8" stroke-width="1"/>
<g font-family="'Liberation Sans',Arial,sans-serif" font-size="12.3" fill="#262626" fill-opacity="0.92">
<text x="501.20" y="307.80" text-anchor="middle">15</text>
<text x="574.95" y="307.80" text-anchor="middle">15.5</text>
<text x="648.70" y="307.80" text-anchor="middle">16</text>
<text x="495.20" y="295.50" text-anchor="end">0.9998</text>
<text x="495.20" y="253.75" text-anchor="end">0.9999</text>
<text x="495.20" y="212.00" text-anchor="end">1</text>
<text x="495.20" y="170.25" text-anchor="end">1.0001</text>
<text x="495.20" y="128.50" text-anchor="end">1.0002</text>
</g>
</svg></body></html>
